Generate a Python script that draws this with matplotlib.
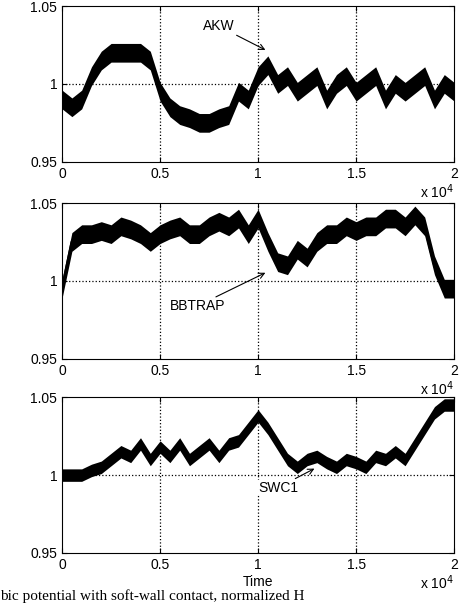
import numpy as np
import matplotlib.pyplot as plt

# time samples (units of 1e4), every 0.05
t = np.arange(0, 2.0001, 0.05)

# centre of the noisy band
akw = [0.99, 0.985, 0.99, 1.005, 1.015, 1.02, 1.02, 1.02, 1.02, 1.015,
       0.995, 0.985, 0.98, 0.978, 0.975, 0.975, 0.978, 0.98, 0.995, 0.99,
       1.005, 1.012, 1.0, 1.005, 0.995, 1.0, 1.005, 0.99, 1.0, 1.005,
       0.995, 1.0, 1.005, 0.99, 1.0, 0.995, 1.0, 1.005, 0.99, 1.0, 0.995]
bbtrap = [0.995, 1.025, 1.03, 1.03, 1.032, 1.03, 1.035, 1.033, 1.03, 1.025,
          1.03, 1.033, 1.035, 1.03, 1.03, 1.035, 1.038, 1.035, 1.04, 1.03,
          1.04, 1.025, 1.012, 1.01, 1.02, 1.015, 1.025, 1.03, 1.03, 1.035,
          1.032, 1.035, 1.035, 1.04, 1.04, 1.035, 1.042, 1.035, 1.01, 0.995, 0.995]
swc1 = [1.0, 1.0, 1.0, 1.003, 1.005, 1.01, 1.015, 1.012, 1.02, 1.01,
        1.018, 1.012, 1.02, 1.01, 1.015, 1.02, 1.012, 1.02, 1.022, 1.03,
        1.038, 1.03, 1.02, 1.01, 1.005, 1.01, 1.012, 1.008, 1.005, 1.01,
        1.008, 1.005, 1.012, 1.01, 1.015, 1.01, 1.02, 1.03, 1.04, 1.045, 1.045]
halfwidth = [0.006, 0.006, 0.004]
series = [akw, bbtrap, swc1]

labels = ['AKW', 'BBTRAP', 'SWC1']
label_xy = [(0.72, 1.037), (0.55, 0.984), (1.0, 0.992)]
arrow_xy = [(1.05, 1.021), (1.05, 1.006), (1.3, 1.005)]

fig = plt.figure(figsize=(4.74, 6.06), dpi=100)
plt.rcParams['font.family'] = 'Liberation Sans'
bottoms = [0.733, 0.408, 0.0875]

for i in range(3):
    ax = fig.add_axes([0.131, bottoms[i], 0.827, 0.257])
    y = np.array(series[i])
    ax.fill_between(t, y - halfwidth[i], y + halfwidth[i], color='black', lw=0)
    ax.plot(t, y, color='black', lw=2)
    ax.set_xlim(0, 2)
    ax.set_ylim(0.95, 1.05)
    ax.set_xticks([0, 0.5, 1, 1.5, 2])
    ax.set_xticklabels(['0', '0.5', '1', '1.5', '2'])
    ax.set_yticks([0.95, 1, 1.05])
    ax.set_yticklabels(['0.95', '1', '1.05'])
    ax.tick_params(direction='in', labelsize=10, top=True, right=True)
    for xv in [0.5, 1, 1.5]:
        ax.axvline(xv, color='black', ls=':', lw=0.9)
    ax.axhline(1, color='black', ls=':', lw=0.9)
    ax.annotate(labels[i], xy=arrow_xy[i], xytext=label_xy[i], fontsize=10,
                ha='left', va='center',
                bbox=dict(facecolor='white', edgecolor='none', pad=0.5),
                arrowprops=dict(arrowstyle='->', color='black', lw=0.8))
    ax.text(1.0, -0.13, r'x 10$^4$', transform=ax.transAxes, ha='right',
            va='top', fontsize=10)
    if i == 2:
        ax.set_xlabel('Time', fontsize=10, labelpad=2)

fig.text(0.0, 0.005, 'bic potential with soft-wall contact, normalized H',
         fontsize=11, family='Liberation Serif', va='bottom')
fig.savefig('out.png', dpi=100)
